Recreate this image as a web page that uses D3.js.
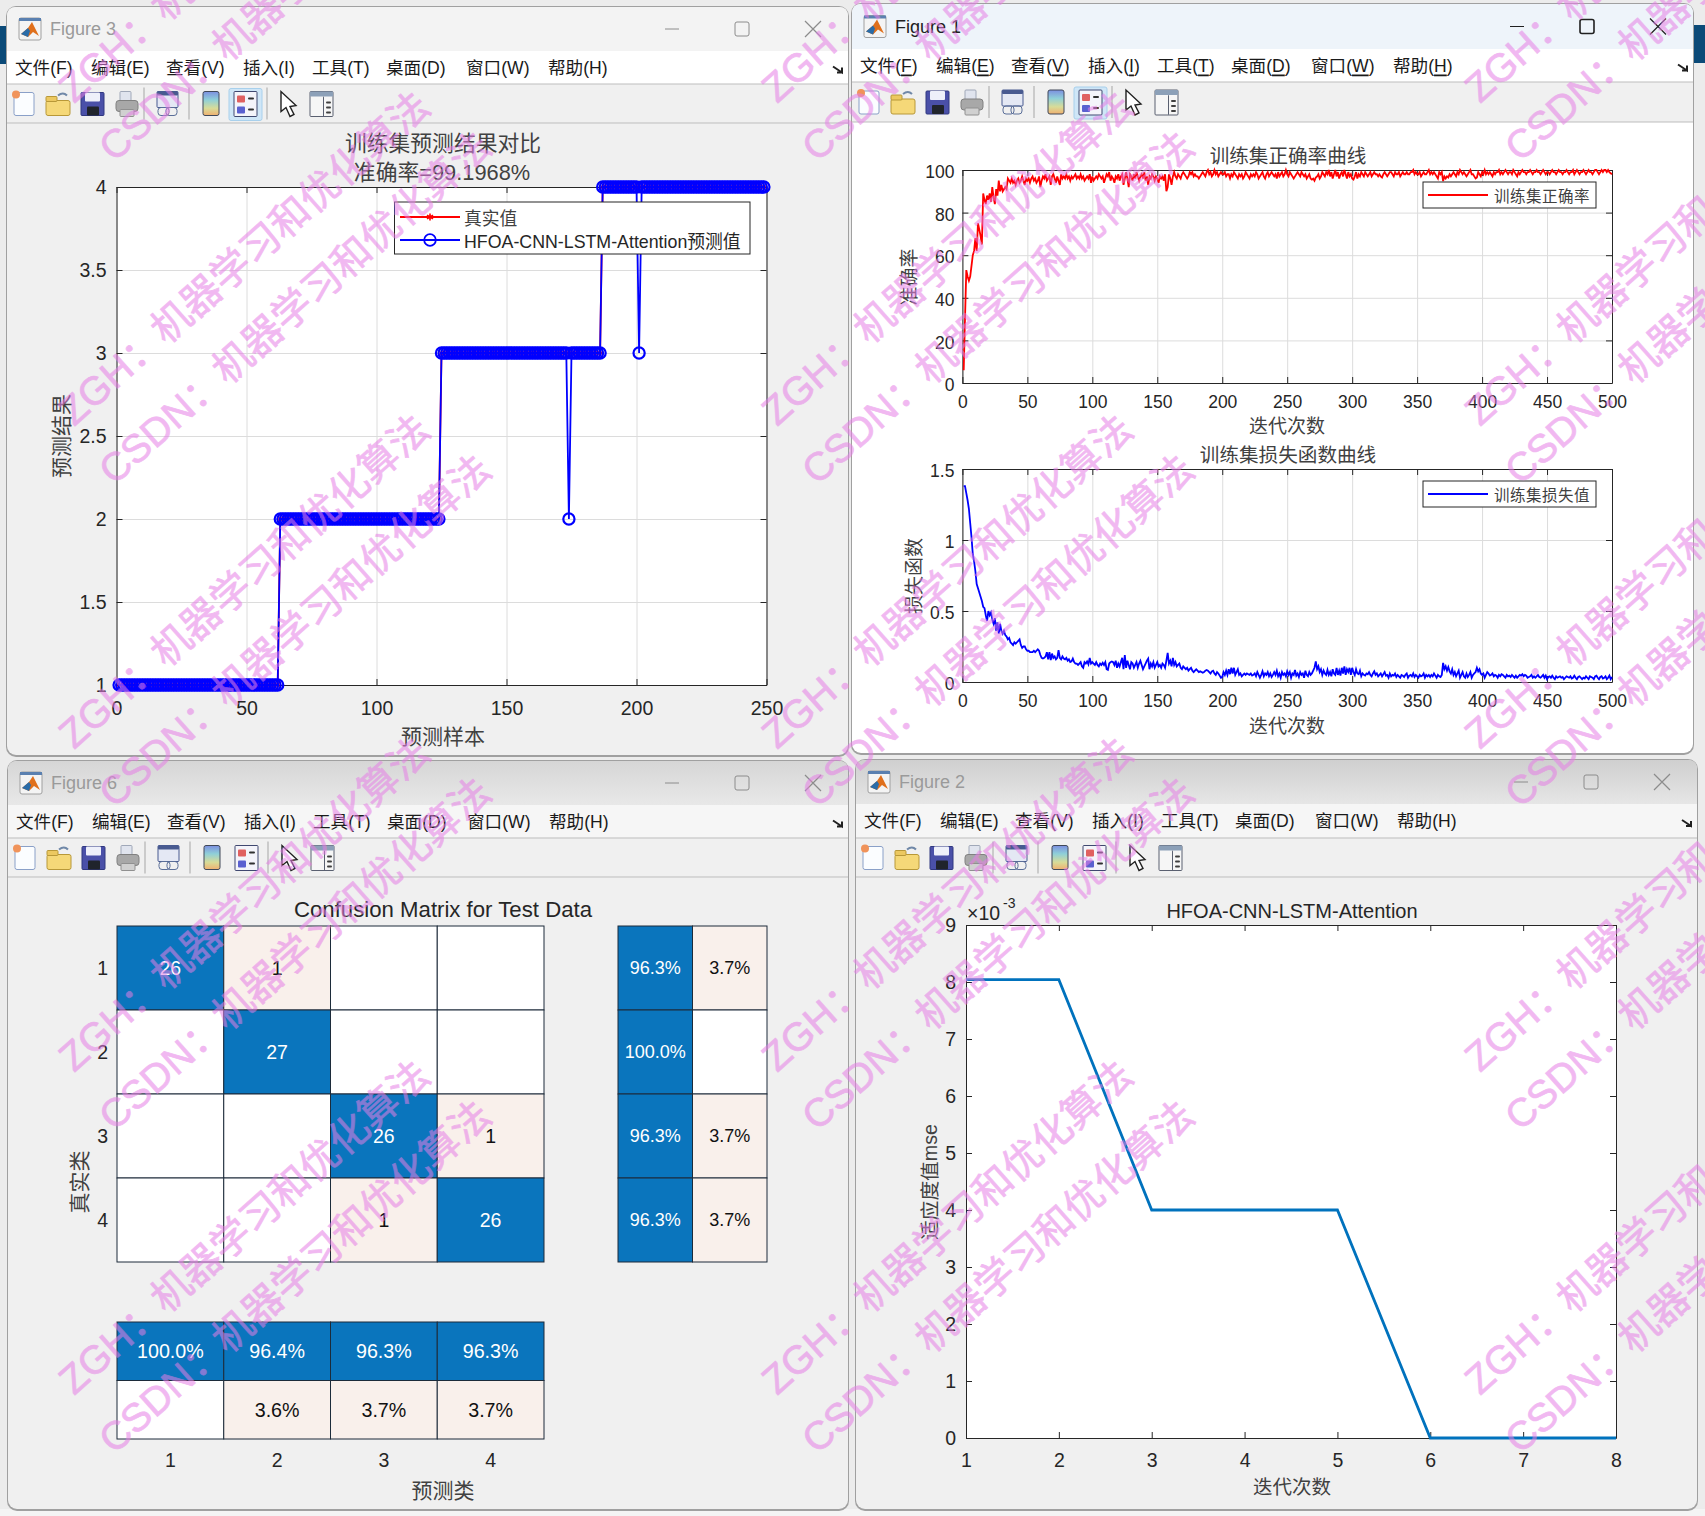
<!DOCTYPE html>
<html>
<head>
<meta charset="utf-8">
<script src="https://cdn.jsdelivr.net/npm/d3@7"></script>
<style>
body { margin: 0; background: #ececec; }
text { font-family: "Liberation Sans", "Noto Sans CJK SC", sans-serif; fill: #262626; }
</style>
</head>
<body>
<svg id="page" width="1705" height="1516"></svg>
<script>
// menu labels, same in every figure window
const menuLabels = ["文件(F)", "编辑(E)", "查看(V)", "插入(I)", "工具(T)", "桌面(D)", "窗口(W)", "帮助(H)"];

const classCounts = [62, 62, 62, 63];
const wrongSamples = [[174, 2], [201, 3]];
const fig3XTicks = [0, 50, 100, 150, 200, 250];
const fig3YTicks = [1, 1.5, 2, 2.5, 3, 3.5, 4];

// Figure 1: accuracy per iteration
const accuracy = [
6,30,53,50,48,50,55,60,62,68,62,75,72,69,65,89,86,84,88,86,
89,85,92,87,84,91,88,95,90,93,90,91,92,91,96,95,94,96,94,95,
93,95,96,94,95,97,95,93,96,95,96,94,96,97,95,96,94,95,97,92,
95,97,96,98,95,96,97,93,97,98,96,94,97,95,93,98,96,97,96,98,
96,97,95,97,96,97,98,96,97,96,98,96,97,95,96,97,96,98,94,97,
95,96,97,96,98,97,96,97,94,96,98,97,99,95,97,96,94,97,96,98,
95,97,98,93,96,99,96,92,98,97,95,98,96,99,97,95,97,98,96,99,
95,97,93,97,96,98,97,95,97,96,94,97,96,97,95,98,90,92,98,96,
93,97,99,97,96,98,97,96,98,99,98,97,96,97,99,98,99,97,98,97,
97,96,97,98,99,98,97,99,100,98,99,97,98,100,98,99,97,98,99,98,
98,99,97,98,98,96,98,97,99,98,97,96,98,97,98,96,97,99,98,97,
96,98,97,98,97,99,98,96,97,98,99,97,96,98,99,97,98,99,98,97,
98,96,99,97,98,99,97,98,100,98,97,99,98,97,96,97,98,99,98,97,
99,98,97,98,96,97,98,96,95.5,96,95,96.5,97,98,96,97,99,98,97,99,
98,100,97,99,96,98,100,97,99,96,98,99,97,100,98,96,99,97,98,96,
95.5,97,99,96,98,97,99,98,97,99,98,97,98,99,97,98,99,98,98,97,
98,97,96.5,98,99,98,97,98,99,99,98,97,99,98,98,99,97,98,99,98,
98,99,98,98,99,99,100,98,99,98,98,99,97,98,99,98,98,99,100,98,
99,98,99,98,97,96,99,98,99,94.8,97,96,97,96.5,98,97,98,99,98,97,
99,98,100,99,98,99,98,97,98,99,100,98,98,97,96,96.5,99,98,97,99,
98,100,98,99,98,99,98,97,99,98,99,99,100,98,99,98,99,100,99,98,
99,99,98,100,99,98,97,99,98,99,100,99,99,98,99,99,100,99,98,99,
99,100,99,99,98,99,100,99,98,99,99,98,99,100,99,99,98,99,100,99,
99,98,99,99,100,99,98,99,99,100,98,99,100,99,98,99,99,100,99,98,
99,100,99,99,98,99,100,100,99,98,99,100,99,100,100,99,100,99,98.5,98];

// Figure 1: loss per iteration
const loss = [
1.38,1.38,1.33,1.28,1.22,1.12,1.02,.9,.85,.78,.69,.66,.63,.60,.57,.53,.52,.47,.43,.5,
.47,.49,.44,.41,.45,.36,.42,.34,.41,.36,.34,.36,.33,.32,.30,.31,.28,.27,.26,.28,
.27,.28,.29,.30,.26,.24,.25,.25,.23,.22,.22,.21,.21,.21,.22,.21,.22,.23,.22,.19,
.17,.165,.17,.18,.21,.16,.21,.155,.20,.17,.18,.16,.17,.225,.17,.16,.18,.165,.16,.17,
.15,.16,.14,.145,.165,.14,.13,.13,.12,.13,.14,.11,.10,.14,.13,.145,.125,.17,.13,.14,
.13,.12,.14,.12,.11,.13,.12,.135,.12,.14,.09,.085,.13,.14,.145,.14,.12,.15,.10,.13,
.11,.14,.17,.09,.19,.10,.15,.12,.09,.14,.13,.10,.12,.14,.10,.13,.15,.12,.09,.11,
.13,.15,.165,.09,.13,.11,.14,.10,.12,.14,.11,.12,.10,.13,.12,.10,.15,.205,.13,.15,
.11,.17,.12,.14,.11,.12,.13,.10,.09,.11,.10,.09,.10,.08,.09,.10,.08,.07,.08,.09,
.08,.07,.075,.07,.065,.07,.08,.085,.08,.07,.06,.075,.08,.06,.05,.07,.06,.045,.03,.035,
.07,.05,.08,.05,.09,.055,.10,.06,.10,.05,.07,.09,.05,.06,.04,.05,.06,.05,.06,.055,
.05,.06,.045,.05,.06,.04,.07,.05,.03,.05,.075,.04,.06,.05,.07,.04,.06,.035,.05,.07,
.05,.08,.04,.06,.03,.07,.05,.06,.04,.075,.05,.07,.03,.06,.05,.085,.045,.06,.035,.07,
.05,.06,.03,.08,.05,.04,.07,.05,.06,.08,.10,.145,.09,.11,.07,.09,.05,.08,.06,.05,
.085,.05,.07,.04,.09,.06,.05,.10,.05,.08,.045,.10,.06,.11,.05,.09,.07,.10,.05,.10,
.07,.05,.09,.06,.055,.08,.04,.06,.05,.045,.06,.055,.07,.05,.04,.06,.075,.05,.06,.04,
.05,.06,.04,.055,.07,.045,.05,.03,.06,.04,.05,.045,.06,.035,.05,.04,.03,.05,.045,.035,
.05,.06,.03,.045,.05,.04,.06,.035,.05,.04,.03,.05,.04,.045,.06,.03,.05,.04,.05,.035,
.05,.04,.06,.045,.03,.05,.04,.035,.05,.135,.09,.11,.08,.105,.075,.06,.09,.05,.07,.04,
.06,.08,.03,.05,.07,.04,.03,.06,.035,.05,.07,.03,.05,.06,.07,.10,.075,.09,.06,.05,
.06,.03,.05,.07,.06,.045,.05,.06,.04,.05,.045,.03,.05,.04,.055,.05,.04,.03,.05,.04,
.045,.035,.05,.04,.03,.045,.03,.04,.05,.045,.055,.04,.05,.045,.03,.035,.04,.05,.03,.04,
.03,.04,.05,.035,.03,.04,.05,.03,.045,.02,.035,.04,.03,.045,.03,.02,.04,.03,.035,.04,
.03,.035,.02,.03,.04,.035,.03,.04,.025,.03,.045,.03,.02,.035,.04,.03,.02,.03,.025,.04,
.03,.02,.04,.035,.03,.02,.04,.045,.03,.02,.035,.04,.025,.03,.04,.02,.03,.045,.02,.035];
const iterTicks = [0, 50, 100, 150, 200, 250, 300, 350, 400, 450, 500];
const accTicks = [0, 20, 40, 60, 80, 100];
const lossTicks = [0, 0.5, 1, 1.5];

// Figure 6: confusion matrix
const classNames = ["1", "2", "3", "4"];
const confusion = [
  [26, 1, 0, 0],
  [0, 27, 0, 0],
  [0, 0, 26, 1],
  [0, 0, 1, 26]];
const rowSummary = [["96.3%", "3.7%"], ["100.0%", ""], ["96.3%", "3.7%"], ["96.3%", "3.7%"]];
const colSummary = [["100.0%", "96.4%", "96.3%", "96.3%"], ["", "3.6%", "3.7%", "3.7%"]];

// Figure 2: best fitness per iteration (x 10^-3)
const fitIter = [1, 2, 3, 4, 5, 6, 7, 8];
const fitness = [8.04, 8.04, 4.0, 4.0, 4.0, 0, 0, 0];
const fitYTicks = [0, 1, 2, 3, 4, 5, 6, 7, 8, 9];

const svg = d3.select("#page");
const defs = svg.append("defs");
const cbGrad = defs.append("linearGradient").attr("id", "cbar").attr("x1", 0).attr("x2", 0).attr("y1", 0).attr("y2", 1);
[["0%", "#7c8fe0"], ["35%", "#8fd0d8"], ["70%", "#d8dc98"], ["100%", "#f0b070"]].forEach(s => cbGrad.append("stop").attr("offset", s[0]).attr("stop-color", s[1]));
const cjkFill = "#414141";

function addText(g, x, y, str, size, opt) {
  opt = opt || {};
  const t = g.append("text").attr("x", x).attr("y", y).attr("font-size", size)
    .attr("text-anchor", opt.anchor || "middle").attr("dominant-baseline", "central").text(str);
  if (opt.fill) t.style("fill", opt.fill);
  if (opt.spacing) t.attr("letter-spacing", opt.spacing);
  if (opt.rotate) t.attr("transform", `rotate(${opt.rotate} ${x} ${y})`);
  return t;
}

// toolbar icons, x is icon centre
function toolbarIcons(g, left, cy, legendOn) {
  const ic = g.append("g").attr("transform", `translate(${left},${cy})`);
  function box(x, y, w, h, fill, stroke, r) {
    ic.append("rect").attr("x", x).attr("y", y).attr("width", w).attr("height", h).attr("rx", r || 1)
      .attr("fill", fill).attr("stroke", stroke || "none");
  }
  // new
  box(6, -11, 20, 23, "#fbfdff", "#8aa0c8", 2);
  ic.append("circle").attr("cx", 8).attr("cy", -9).attr("r", 4).attr("fill", "#f0935a");
  // open
  box(38, -3, 24, 15, "#f5d878", "#b89838", 2);
  box(38, -7, 11, 5, "#ecc860", "#b89838", 1);
  ic.append("path").attr("d", "M50 -8 q5 -4 9 0").attr("fill", "none").attr("stroke", "#7088a8").attr("stroke-width", 2);
  // save
  box(73, -11, 23, 23, "#4a50a8", "#303880", 1);
  box(77, -11, 15, 9, "#eef0fa");
  box(79, 3, 12, 9, "#20242c");
  // print
  box(112, -12, 11, 10, "#e0e4ee", "#a0a8b8");
  box(108, -3, 22, 11, "#a8a8a8", "#808080", 3);
  box(112, 6, 14, 7, "#d0d0d0", "#909090");
  // separator
  ic.append("line").attr("x1", 136).attr("x2", 136).attr("y1", -16).attr("y2", 16).attr("stroke", "#a6a6a6");
  // link plot
  box(149, -12, 21, 16, "#e4e8f4", "#485a90", 1);
  box(149, -12, 21, 4, "#485a90");
  box(150, 4, 11, 8, "none", "#5a6e98", 3);
  box(158, 4, 11, 8, "none", "#5a6e98", 3);
  ic.append("line").attr("x1", 181).attr("x2", 181).attr("y1", -16).attr("y2", 16).attr("stroke", "#a6a6a6");
  // colorbar
  box(195, -12, 16, 24, "url(#cbar)", "#404858", 2);
  // legend
  if (legendOn) box(221, -15, 33, 32, "#cfe6f7", "#a8d0ec", 2);
  box(226, -12, 23, 25, "#f4f4fa", "#404870", 1);
  box(229, -8, 8, 7, "#e06060");
  box(229, 3, 8, 7, "#5a60d0");
  box(240, -6, 6, 2, "#303030");
  box(240, 5, 6, 2, "#303030");
  ic.append("line").attr("x1", 259).attr("x2", 259).attr("y1", -16).attr("y2", 16).attr("stroke", "#a6a6a6");
  // cursor
  ic.append("path").attr("d", "M273 -12 L273 8 L278 4 L282 13 L286 11 L282 3 L288 2 Z").attr("fill", "#fff").attr("stroke", "#202020").attr("stroke-width", 1.4);
  // property editor
  box(302, -12, 23, 25, "#f6f6f6", "#5a6070", 1);
  box(302, -12, 23, 5, "#8ca0b8");
  box(315, -7, 1, 20, "#5a6070");
  [-2, 3, 8].forEach(d => box(318, d, 5, 2, "#404040"));
}

function figureWindow(w) {
  const g = svg.append("g");
  const wid = w.x1 - w.x0, hgt = w.y1 - w.y0;
  g.append("rect").attr("x", w.x0 - 1).attr("y", w.y0 - 1).attr("width", wid + 2).attr("height", hgt + 3).attr("rx", 10).attr("fill", "#a0a0a0");
  g.append("rect").attr("x", w.x0).attr("y", w.y0).attr("width", wid).attr("height", hgt).attr("rx", 9).attr("fill", w.body);
  // title bar
  const tid = "tb" + w.name.replace(" ", "");
  const grad = defs.append("linearGradient").attr("id", tid).attr("x1", 0).attr("x2", 0).attr("y1", 0).attr("y2", 1);
  grad.append("stop").attr("offset", "0%").attr("stop-color", w.bar[0]);
  grad.append("stop").attr("offset", "100%").attr("stop-color", w.bar[1]);
  g.append("path").attr("d", `M${w.x0} ${w.tb} V${w.y0 + 9} q0 -9 9 -9 H${w.x1 - 9} q9 0 9 9 V${w.tb} Z`).attr("fill", `url(#${tid})`);
  // menu and toolbar strips
  g.append("rect").attr("x", w.x0).attr("y", w.tb).attr("width", wid).attr("height", w.menu - w.tb).attr("fill", w.menuFill);
  g.append("rect").attr("x", w.x0).attr("y", w.menu).attr("width", wid).attr("height", w.tool - w.menu).attr("fill", "#f0f0f0");
  g.append("line").attr("x1", w.x0).attr("x2", w.x1).attr("y1", w.menu).attr("y2", w.menu).attr("stroke", "#bdbdbd");
  g.append("line").attr("x1", w.x0).attr("x2", w.x1).attr("y1", w.tool).attr("y2", w.tool).attr("stroke", "#bdbdbd");
  // matlab icon
  const my = (w.y0 + w.tb) / 2;
  g.append("rect").attr("x", w.x0 + 12).attr("y", my - 11).attr("width", 22).attr("height", 22).attr("rx", 2).attr("fill", "#f4f4f4").attr("stroke", "#a0a0a0");
  g.append("rect").attr("x", w.x0 + 12).attr("y", my - 11).attr("width", 22).attr("height", 3).attr("fill", "#5a80b0");
  g.append("path").attr("d", `M${w.x0 + 14} ${my + 5} L${w.x0 + 21} ${my - 1} L${w.x0 + 25} ${my - 7} L${w.x0 + 32} ${my + 7} L${w.x0 + 26} ${my + 3} L${w.x0 + 21} ${my + 8} Z`).attr("fill", "#e0701c");
  g.append("path").attr("d", `M${w.x0 + 14} ${my + 5} L${w.x0 + 21} ${my - 1} L${w.x0 + 23} ${my + 2} L${w.x0 + 21} ${my + 8} Z`).attr("fill", "#2a6ca8");
  addText(g, w.x0 + 43, my, w.name, 18, { anchor: "start", fill: w.active ? "#202020" : "#9a9a9a" });
  // window buttons
  const btn = w.active ? "#202020" : "#8c8c8c";
  g.append("line").attr("x1", w.x1 - 183).attr("x2", w.x1 - 169).attr("y1", my).attr("y2", my).attr("stroke", btn);
  g.append("rect").attr("x", w.x1 - 113).attr("y", my - 7).attr("width", 14).attr("height", 14).attr("rx", 2).attr("fill", "none").attr("stroke", btn).attr("stroke-width", w.active ? 1.6 : 1);
  g.append("path").attr("d", `M${w.x1 - 43} ${my - 8} l16 16 m0 -16 l-16 16`).attr("stroke", btn).attr("fill", "none").attr("stroke-width", 1.2);
  // menu, the active window underlines the access key
  const menuX = [0, 76, 151, 228, 297, 371, 451, 533];
  menuLabels.forEach((m, i) => {
    const t = addText(g, w.x0 + 8 + menuX[i], (w.tb + w.menu) / 2, "", 17.6, { anchor: "start", fill: "#1a1a1a" });
    if (w.active) {
      t.append("tspan").text(m.slice(0, 3));
      t.append("tspan").attr("text-decoration", "underline").text(m.slice(3, -1));
      t.append("tspan").text(")");
    } else {
      t.text(m);
    }
  });
  g.append("path").attr("d", `M${w.x1 - 15} ${(w.tb + w.menu) / 2 - 1} l9 6 v-5 m0 5 h-5`).attr("stroke", "#202020").attr("stroke-width", 2).attr("fill", "none");
  toolbarIcons(g, w.x0 + 1, (w.menu + w.tool) / 2, w.legendOn);
  return g;
}

// axes box with inward ticks on all sides
function boxAxes(g, x, y, opt) {
  const [x0, x1] = x.range(), [y1, y0] = y.range();
  g.append("rect").attr("x", x0).attr("y", y0).attr("width", x1 - x0).attr("height", y1 - y0).attr("fill", "#fff");
  if (opt.grid) {
    g.append("g").attr("transform", `translate(0,${y1})`).call(d3.axisBottom(x).tickValues(opt.xTicks).tickSize(y0 - y1).tickFormat(""))
      .call(a => { a.select(".domain").remove(); a.selectAll("line").attr("stroke", "#dcdcdc"); });
    g.append("g").attr("transform", `translate(${x0},0)`).call(d3.axisLeft(y).tickValues(opt.yTicks).tickSize(x0 - x1).tickFormat(""))
      .call(a => { a.select(".domain").remove(); a.selectAll("line").attr("stroke", "#dcdcdc"); });
  }
  const style = a => {
    a.select(".domain").attr("stroke", "#262626");
    a.selectAll("line").attr("stroke", "#262626");
    a.selectAll("text").attr("font-size", opt.size).attr("font-family", null);
  };
  const t = opt.tick || 6;
  g.append("g").attr("transform", `translate(0,${y1})`).call(d3.axisBottom(x).tickValues(opt.xTicks).tickSize(-t).tickPadding(opt.xPad).tickSizeOuter(0).tickFormat(d => d)).call(style);
  g.append("g").attr("transform", `translate(${x0},0)`).call(d3.axisLeft(y).tickValues(opt.yTicks).tickSize(-t).tickPadding(opt.yPad).tickSizeOuter(0).tickFormat(d => d)).call(style)
    .call(a => a.selectAll("text").attr("transform", `translate(0,${opt.yShift || 0})`));
  g.append("g").attr("transform", `translate(0,${y0})`).call(d3.axisTop(x).tickValues(opt.xTicks).tickSize(-t).tickSizeOuter(0).tickFormat("")).call(style);
  g.append("g").attr("transform", `translate(${x1},0)`).call(d3.axisRight(y).tickValues(opt.yTicks).tickSize(-t).tickSizeOuter(0).tickFormat("")).call(style);
}

// scraps of other windows behind the figures
const back = svg.append("g");
back.append("rect").attr("width", 1705).attr("height", 1516).attr("fill", "#ececec");
back.append("rect").attr("x", 0).attr("y", 26).attr("width", 8).attr("height", 38).attr("fill", "#0b4a78");
back.append("rect").attr("x", 1692).attr("y", 25).attr("width", 13).attr("height", 38).attr("fill", "#0b4a78");
back.append("rect").attr("x", 0).attr("y", 1509).attr("width", 1705).attr("height", 7).attr("fill", "#f4f4f4");
addText(back, 325, 770, "21", 18, { anchor: "start", fill: "#303030" });
addText(back, 438, 770, "%%", 18, { anchor: "start", fill: "#028009" });
addText(back, 490, 770, "设置共享存储和班", 18, { anchor: "start", fill: "#028009" });
addText(back, 1347, 1523, "Zoom: 110%", 18, { anchor: "start" });
addText(back, 1475, 1523, "GB18030", 18, { anchor: "start" });
addText(back, 1660, 1523, "CRLF", 18, { anchor: "start" });

// ---------- Figure 3 ----------
const f3 = figureWindow({ name: "Figure 3", x0: 7, y0: 7, x1: 848, y1: 755, tb: 51, menu: 84, tool: 123, body: "#f0f0f0", bar: ["#f3f3f3", "#f3f3f3"], menuFill: "#ffffff", active: false, legendOn: true });
const x3 = d3.scaleLinear().domain([0, 250]).range([116.5, 766.5]);
const y3 = d3.scaleLinear().domain([1, 4]).range([685, 187]);
boxAxes(f3, x3, y3, { grid: true, xTicks: fig3XTicks, yTicks: fig3YTicks, size: 19.5, xPad: 16, yPad: 10 });

let trueClass = [];
classCounts.forEach((n, c) => { for (let i = 0; i < n; i++) trueClass.push(c + 1); });
let predClass = trueClass.slice();
wrongSamples.forEach(w => { predClass[w[0] - 1] = w[1]; });
const line3 = d3.line().x((d, i) => x3(i + 1)).y(d => y3(d));
f3.append("path").attr("d", line3(trueClass)).attr("fill", "none").attr("stroke", "#f00").attr("stroke-width", 1.8);
const star = d3.symbol(d3.symbolAsterisk, 34);
f3.append("g").selectAll("path").data(trueClass).join("path")
  .attr("d", star).attr("transform", (d, i) => `translate(${x3(i + 1)},${y3(d)})`).attr("stroke", "#f00").attr("stroke-width", 1.2);
f3.append("path").attr("d", line3(predClass)).attr("fill", "none").attr("stroke", "#00f").attr("stroke-width", 1.8);
f3.append("g").selectAll("circle").data(predClass).join("circle")
  .attr("cx", (d, i) => x3(i + 1)).attr("cy", d => y3(d)).attr("r", 5.6)
  .attr("fill", "none").attr("stroke", "#00f").attr("stroke-width", 2.2);

addText(f3, 443, 143, "训练集预测结果对比", 21.8, { fill: cjkFill });
addText(f3, 442, 172, "准确率=99.1968%", 21.8, { fill: cjkFill });
addText(f3, 443, 736, "预测样本", 21, { fill: cjkFill });
addText(f3, 61, 436, "预测结果", 21, { rotate: -90, fill: cjkFill });
// legend
f3.append("rect").attr("x", 394.5).attr("y", 202).attr("width", 355.5).attr("height", 52).attr("fill", "#fff").attr("stroke", "#262626");
f3.append("line").attr("x1", 400).attr("x2", 460).attr("y1", 217).attr("y2", 217).attr("stroke", "#f00").attr("stroke-width", 2);
f3.append("path").attr("d", star).attr("transform", "translate(430,217)").attr("stroke", "#f00").attr("stroke-width", 1.6);
f3.append("line").attr("x1", 400).attr("x2", 460).attr("y1", 240).attr("y2", 240).attr("stroke", "#00f").attr("stroke-width", 2);
f3.append("circle").attr("cx", 430).attr("cy", 240).attr("r", 5.8).attr("fill", "none").attr("stroke", "#00f").attr("stroke-width", 1.8);
addText(f3, 464, 219, "真实值", 17.8, { anchor: "start", fill: cjkFill });
addText(f3, 464, 242, "HFOA-CNN-LSTM-Attention预测值", 17.8, { anchor: "start" });

// ---------- Figure 1 ----------
const f1 = figureWindow({ name: "Figure 1", x0: 852, y0: 4, x1: 1693, y1: 753, tb: 49, menu: 82, tool: 122, body: "#ffffff", bar: ["#eef4fa", "#eef4fa"], menuFill: "#ffffff", active: true, legendOn: true });
const xAcc = d3.scaleLinear().domain([0, 500]).range([962.4, 1612]);
const yAcc = d3.scaleLinear().domain([0, 100]).range([383, 170]);
boxAxes(f1, xAcc, yAcc, { grid: true, xTicks: iterTicks, yTicks: accTicks, size: 17.5, xPad: 13, yPad: 8, yShift: 2 });
f1.append("path").attr("d", d3.line().x((d, i) => xAcc(i + 1)).y(d => yAcc(d))(accuracy))
  .attr("fill", "none").attr("stroke", "#f00").attr("stroke-width", 1.8);
addText(f1, 1288, 156, "训练集正确率曲线", 19.6, { fill: cjkFill });
addText(f1, 1287, 426, "迭代次数", 19, { fill: cjkFill });
addText(f1, 909, 277, "准确率", 19, { rotate: -90, fill: cjkFill });
f1.append("rect").attr("x", 1423).attr("y", 182).attr("width", 173).attr("height", 26).attr("fill", "#fff").attr("stroke", "#262626");
f1.append("line").attr("x1", 1428).attr("x2", 1488).attr("y1", 195).attr("y2", 195).attr("stroke", "#f00").attr("stroke-width", 2);
addText(f1, 1494, 196, "训练集正确率", 15.5, { anchor: "start", spacing: 0.5, fill: cjkFill });

const yLoss = d3.scaleLinear().domain([0, 1.5]).range([682, 469]);
boxAxes(f1, xAcc, yLoss, { grid: true, xTicks: iterTicks, yTicks: lossTicks, size: 17.5, xPad: 13, yPad: 8, yShift: 2 });
f1.append("path").attr("d", d3.line().x((d, i) => xAcc(i + 1)).y(d => yLoss(d))(loss))
  .attr("fill", "none").attr("stroke", "#00f").attr("stroke-width", 1.8);
addText(f1, 1288, 455, "训练集损失函数曲线", 19.6, { fill: cjkFill });
addText(f1, 1287, 726, "迭代次数", 19, { fill: cjkFill });
addText(f1, 914, 576, "损失函数", 19, { rotate: -90, fill: cjkFill });
f1.append("rect").attr("x", 1423).attr("y", 481).attr("width", 173).attr("height", 26).attr("fill", "#fff").attr("stroke", "#262626");
f1.append("line").attr("x1", 1428).attr("x2", 1488).attr("y1", 494).attr("y2", 494).attr("stroke", "#00f").attr("stroke-width", 2);
addText(f1, 1494, 495, "训练集损失值", 15.5, { anchor: "start", spacing: 0.5, fill: cjkFill });

// ---------- Figure 6 ----------
const f6 = figureWindow({ name: "Figure 6", x0: 8, y0: 761, x1: 848, y1: 1509, tb: 805, menu: 838, tool: 877, body: "#f0f0f0", bar: ["#d6d6d6", "#e8e8e8"], menuFill: "#f6f6f6", active: false, legendOn: false });
const blue = "#0a75bd", pink = "#f9f0eb", edge = "#1c2b3a";
const xCm = d3.scaleBand().domain(classNames).range([117, 544]);
const yCm = d3.scaleBand().domain(classNames).range([926, 1262]);
function cell(x, y, w, h, fill, str, size, col) {
  f6.append("rect").attr("x", x).attr("y", y).attr("width", w).attr("height", h).attr("fill", fill).attr("stroke", edge);
  if (str !== "") addText(f6, x + w / 2, y + h / 2, str, size, { fill: col });
}
confusion.forEach((row, r) => row.forEach((v, c) => {
  const fill = v === 0 ? "#fff" : (r === c ? blue : pink);
  cell(xCm(classNames[c]), yCm(classNames[r]), xCm.bandwidth(), yCm.bandwidth(), fill, v === 0 ? "" : String(v), 19.5, r === c ? "#fff" : "#111");
}));
const xRow = d3.scaleBand().domain([0, 1]).range([618, 767]);
rowSummary.forEach((row, r) => {
  cell(xRow(0), yCm(classNames[r]), xRow.bandwidth(), yCm.bandwidth(), blue, row[0], 18, "#fff");
  cell(xRow(1), yCm(classNames[r]), xRow.bandwidth(), yCm.bandwidth(), row[1] === "" ? "#fff" : pink, row[1], 18, "#111");
});
const yCol = d3.scaleBand().domain([0, 1]).range([1322, 1439]);
colSummary.forEach((row, r) => row.forEach((v, c) => {
  cell(xCm(classNames[c]), yCol(r), xCm.bandwidth(), yCol.bandwidth(), r === 0 ? blue : (v === "" ? "#fff" : pink), v, 19.7, r === 0 ? "#fff" : "#111");
}));
f6.append("g").attr("transform", "translate(117,0)").call(d3.axisLeft(yCm).tickSize(0).tickPadding(9))
  .call(a => { a.select(".domain").remove(); a.selectAll("text").attr("font-size", 19.5).attr("font-family", null).attr("transform", "translate(0,1)"); });
f6.append("g").attr("transform", "translate(0,1439)").call(d3.axisBottom(xCm).tickSize(0).tickPadding(14))
  .call(a => { a.select(".domain").remove(); a.selectAll("text").attr("font-size", 19.5).attr("font-family", null); });
addText(f6, 443, 909, "Confusion Matrix for Test Data", 22.2);
addText(f6, 443, 1490, "预测类", 21, { fill: cjkFill });
addText(f6, 79, 1182, "真实类", 21, { rotate: -90, fill: cjkFill });

// ---------- Figure 2 ----------
const f2 = figureWindow({ name: "Figure 2", x0: 856, y0: 760, x1: 1697, y1: 1509, tb: 804, menu: 838, tool: 877, body: "#f0f0f0", bar: ["#cfcfcf", "#e6e6e6"], menuFill: "#f6f6f6", active: false, legendOn: false });
const xFit = d3.scaleLinear().domain([1, 8]).range([966, 1616]);
const yFit = d3.scaleLinear().domain([0, 9]).range([1438, 925]);
boxAxes(f2, xFit, yFit, { grid: false, xTicks: fitIter, yTicks: fitYTicks, size: 19.5, xPad: 15, yPad: 10 });
f2.append("path").attr("d", d3.line().x((d, i) => xFit(fitIter[i])).y(d => yFit(d))(fitness))
  .attr("fill", "none").attr("stroke", "#0072bd").attr("stroke-width", 2.8);
addText(f2, 1292, 911, "HFOA-CNN-LSTM-Attention", 20);
addText(f2, 1292, 1487, "迭代次数", 19.5, { fill: cjkFill });
addText(f2, 930, 1182, "适应度值mse", 19.7, { rotate: -90, fill: cjkFill });
addText(f2, 967, 913, "×10", 19.5, { anchor: "start" });
addText(f2, 1003, 903, "-3", 14, { anchor: "start" });

// ---------- watermark over everything ----------
const mark = svg.append("g").attr("pointer-events", "none");
const markAngle = -41.5;
for (let j = -1; j < 5; j++) {
  for (let k = -1; k < 3; k++) {
    const zx = 74 + k * 703, zy = 104 + j * 323;
    [["ZGH：机器学习和优化算法", zx, zy], ["CSDN：机器学习和优化算法", zx + 40, zy + 59]].forEach(m => {
      mark.append("text").attr("x", m[1]).attr("y", m[2]).attr("font-size", 39.5)
        .attr("transform", `rotate(${markAngle} ${m[1]} ${m[2]})`)
        .style("fill", "#e67fe6").style("stroke", "#e67fe6").style("stroke-width", 0.7).style("opacity", 0.55).text(m[0]);
    });
  }
}
</script>
</body>
</html>
